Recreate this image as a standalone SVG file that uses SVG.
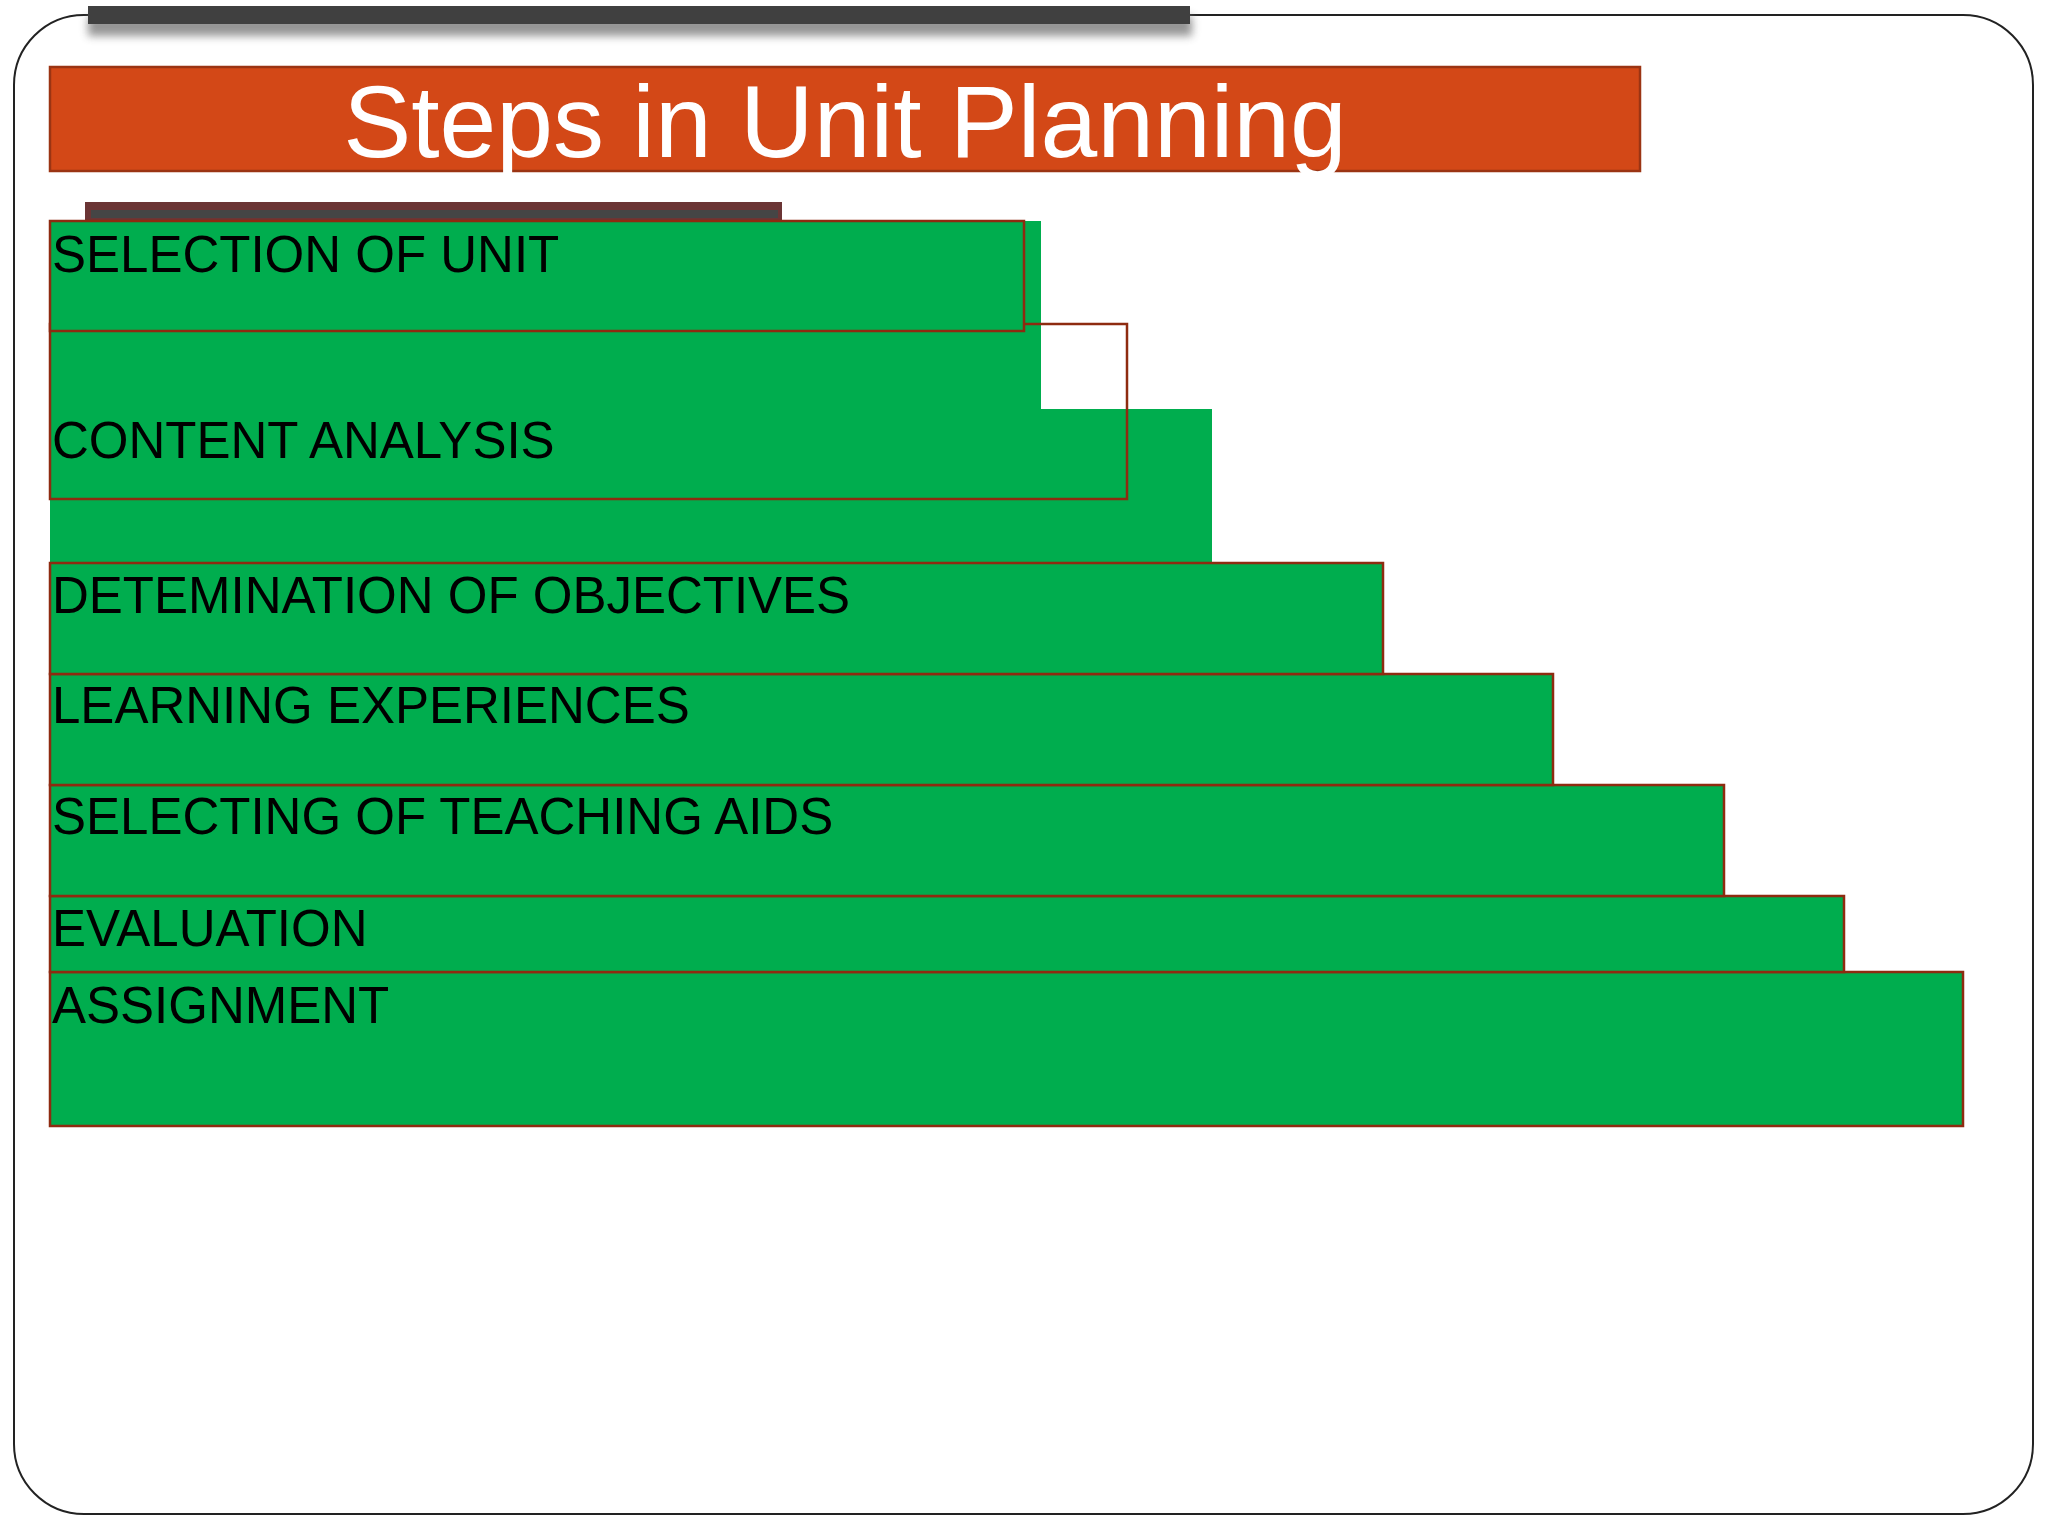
<svg xmlns="http://www.w3.org/2000/svg" width="2048" height="1536" viewBox="0 0 2048 1536">
<defs>
<filter id="shadow" x="-5%" y="-50%" width="110%" height="300%">
<feGaussianBlur stdDeviation="4"/>
</filter>
<style>
.box{fill:#00AD4E;stroke:#8E2B10;stroke-width:2.5}
.outline{fill:none;stroke:#8E2B10;stroke-width:2.5}
.lbl{font-family:"Liberation Sans",Arial,sans-serif;font-size:51px;fill:#000}
.title{font-family:"Liberation Sans",Arial,sans-serif;font-size:102px;fill:#fff}
</style>
</defs>
<rect width="2048" height="1536" fill="#fff"/>
<rect x="14" y="15" width="2019" height="1499" rx="70" ry="70" fill="#fff" stroke="#222" stroke-width="2"/>
<g id="topbar">
<rect x="88" y="16" width="1104" height="20" fill="#8a8a8a" filter="url(#shadow)" opacity="0.9"/>
<rect x="88" y="6" width="1102" height="18" fill="#404040"/>
</g>
<g id="title">
<rect x="50" y="67" width="1590" height="104" fill="#D34817" stroke="#9B3413" stroke-width="2.5"/>
<text class="title" x="845" y="157" text-anchor="middle">Steps in Unit Planning</text>
</g>
<g id="darkbar">
<rect x="85" y="202" width="697" height="19" fill="#6B3535"/>
<rect x="91" y="210" width="687" height="8" fill="#454545"/>
</g>
<g id="staircase">
<polygon points="50,221 1041,221 1041,409 1212,409 1212,563 50,563" fill="#00AD4E"/>
</g>
<g id="content-analysis">
<rect class="outline" x="50" y="324" width="1077" height="175"/>
<text class="lbl" x="52" y="458">CONTENT ANALYSIS</text>
</g>
<g id="selection-of-unit">
<rect class="box" x="50" y="221" width="974" height="110"/>
<text class="lbl" x="52" y="272">SELECTION OF UNIT</text>
</g>
<g id="assignment">
<rect class="box" x="50" y="972" width="1913" height="154"/>
<text class="lbl" x="52" y="1023">ASSIGNMENT</text>
</g>
<g id="evaluation">
<rect class="box" x="50" y="896" width="1794" height="76"/>
<text class="lbl" x="52" y="946">EVALUATION</text>
</g>
<g id="teaching-aids">
<rect class="box" x="50" y="785" width="1674" height="111"/>
<text class="lbl" x="52" y="834">SELECTING OF TEACHING AIDS</text>
</g>
<g id="learning-experiences">
<rect class="box" x="50" y="674" width="1503" height="111"/>
<text class="lbl" x="52" y="723">LEARNING EXPERIENCES</text>
</g>
<g id="objectives">
<rect class="box" x="50" y="563" width="1333" height="111"/>
<text class="lbl" x="52" y="613">DETEMINATION OF OBJECTIVES</text>
</g>
<g id="connectors"></g>
</svg>
